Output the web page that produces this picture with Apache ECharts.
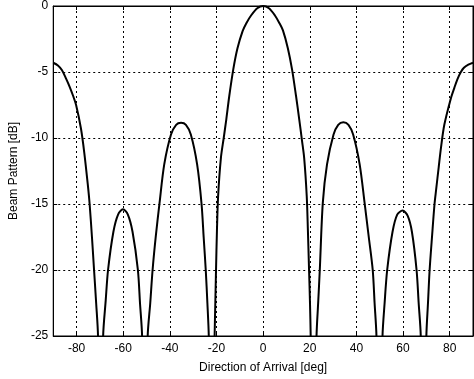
<!DOCTYPE html>
<html>
<head>
<meta charset="utf-8">
<script src="https://cdn.jsdelivr.net/npm/echarts@6/dist/echarts.min.js"></script>
<style>
html,body{margin:0;padding:0;background:#fff;}
#c{width:474px;height:379px;}
</style>
</head>
<body>
<div id="c"></div>
<script>
// Direction of arrival [deg]
var doa = [-90,-88,-86.3,-84.5,-83,-81.5,-80.2,-78.1,-76.7,-75.2,-74.4,-73.4,-72.5,-71.6,-70.8,-69.7,-68.6,-67.5,-66.5,-64.2,-62.2,-60.1,-58,-56,-53.7,-52.8,-51.9,-50.7,-49.5,-48.4,-47.4,-46,-44.4,-42.4,-39.5,-37.3,-35.2,-33.1,-31,-28.3,-26.4,-25.5,-24.6,-23.9,-23.3,-22,-20.8,-20.5,-20.2,-19.8,-19.3,-18.1,-16.9,-15.8,-14.5,-12.8,-11,-8.8,-7.2,-5.1,-2.5,0,2.5,5,7,8.5,10.6,12.4,14.1,15.5,16.6,17.6,18.7,19.2,19.7,20.1,20.4,21.6,22.9,23.6,24.3,25.6,27.4,30.2,32.2,34.4,36.6,38.6,41.4,43.5,45.3,47,47.8,48.6,49.9,51.2,52.1,53.2,55.5,57.5,59.8,62,63.8,65.8,66.7,67.6,68.8,70,70.7,71.4,72.5,73.5,74.2,75.3,76.3,77.7,80.5,82,83.3,84.8,86.1,88,90];
// Beam pattern [dB]
var beam = [-4.3,-4.5,-4.85,-5.5,-6.1,-6.8,-7.5,-9.3,-11.1,-13.5,-15,-17.5,-20,-22.5,-25,-38,-25,-22.3,-20,-17.1,-15.8,-15.4,-15.8,-17.1,-20,-22.5,-25,-38,-25,-22.5,-20,-17.4,-14.9,-12,-9.74,-9.0,-8.85,-9.0,-9.74,-12,-15,-17.5,-20,-22.5,-25,-38,-25,-22.5,-20,-17,-14.4,-11.5,-10,-8.6,-6.8,-4.8,-3.2,-1.9,-1.3,-0.7,-0.17,0,-0.17,-0.7,-1.3,-1.85,-3.2,-4.8,-6.8,-8.6,-10.1,-11.5,-14.4,-17,-20,-22.5,-25,-38,-25,-22.5,-20,-14.9,-12,-9.74,-9.0,-8.8,-9.0,-9.74,-12,-14.9,-17.5,-20,-22.5,-25,-38,-25,-22.5,-20,-17.1,-15.8,-15.5,-15.9,-17.1,-20,-22.5,-25,-38,-25,-22.5,-20,-17.3,-15,-13.9,-12.2,-10.7,-9.0,-7.0,-6.2,-5.55,-5.0,-4.68,-4.45,-4.3];
var xTicks = [-80,-60,-40,-20,0,20,40,60,80];
var yTicks = [-25,-20,-15,-10,-5,0];

var font = 'Liberation Sans, Arial, sans-serif';
var pts = doa.map(function(d,i){return [d, beam[i]];});
var gridLine = {show:true, lineStyle:{color:'#000', type:[2,3], width:1}};

var chart = echarts.init(document.getElementById('c'), null, {renderer:'canvas'});
chart.setOption({
  animation:false,
  backgroundColor:'#fff',
  grid:{left:43, right:1, top:5, bottom:36, show:true, borderColor:'#000', borderWidth:1},
  xAxis:[{
    type:'value', min:-90, max:90, position:'bottom',
    name:'Direction of Arrival [deg]', nameLocation:'middle', nameGap:26,
    nameTextStyle:{color:'#000', fontSize:12, fontFamily:font},
    axisLine:{show:true, onZero:false, lineStyle:{color:'#000', width:1}},
    axisTick:{show:true, inside:true, length:4, customValues:xTicks, lineStyle:{color:'#000'}},
    axisLabel:{customValues:xTicks, color:'#000', fontSize:12, fontFamily:font, margin:7},
    splitLine:gridLine
  },{
    type:'value', min:-90, max:90, position:'top',
    axisLine:{show:true, onZero:false, lineStyle:{color:'#000', width:1}},
    axisTick:{show:true, inside:true, length:4, customValues:xTicks, lineStyle:{color:'#000'}},
    axisLabel:{show:false}, splitLine:{show:false}
  }],
  yAxis:[{
    type:'value', min:-25, max:0, interval:5, position:'left',
    name:'Beam Pattern [dB]', nameLocation:'middle', nameGap:31,
    nameTextStyle:{color:'#000', fontSize:12, fontFamily:font},
    axisLine:{show:true, onZero:false, lineStyle:{color:'#000', width:1}},
    axisTick:{show:true, inside:true, length:4, customValues:yTicks, lineStyle:{color:'#000'}},
    axisLabel:{color:'#000', fontSize:12, fontFamily:font, margin:5},
    splitLine:gridLine
  },{
    type:'value', min:-25, max:0, interval:5, position:'right',
    axisLine:{show:true, onZero:false, lineStyle:{color:'#000', width:1}},
    axisTick:{show:true, inside:true, length:4, lineStyle:{color:'#000'}},
    axisLabel:{show:false}, splitLine:{show:false}
  }],
  series:[{
    type:'line', data:pts, xAxisIndex:0, yAxisIndex:0,
    smooth:0.3, showSymbol:false, clip:true,
    lineStyle:{color:'#000', width:2}
  }]
});
</script>
</body>
</html>
